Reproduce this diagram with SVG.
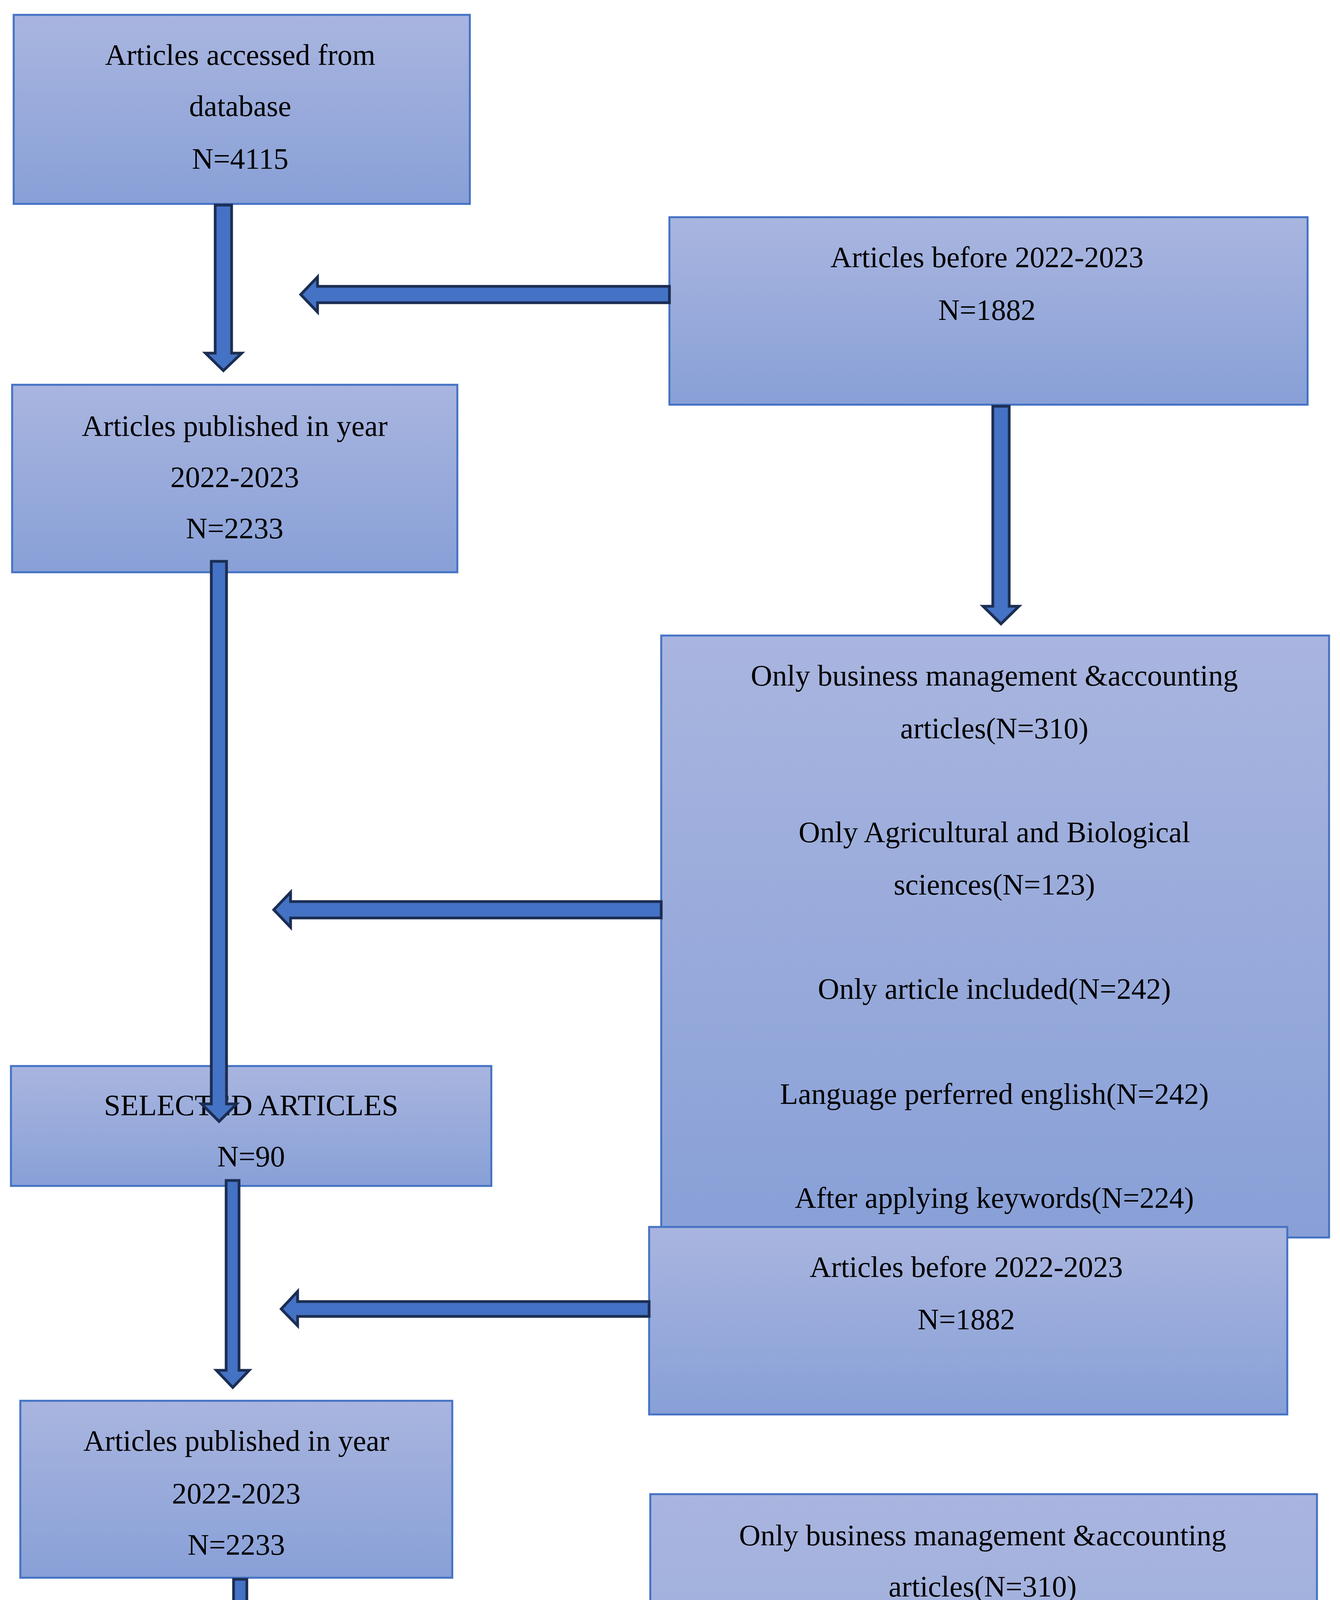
<svg xmlns="http://www.w3.org/2000/svg" width="3431" height="5401" viewBox="0 0 3431 5401">
<defs>
<linearGradient id="g" x1="0" y1="0" x2="0" y2="1"><stop offset="0" stop-color="#a9b5df"/><stop offset="1" stop-color="#88a0d7"/></linearGradient>
<style>
.b{fill:url(#g);stroke:#4472c4;stroke-width:5}
.t{font-family:"Liberation Serif","Times New Roman",serif;font-size:76px;fill:#000;text-anchor:middle}
.a{fill:#4472c4;stroke:#1b2d52;stroke-width:7}
</style>
</defs>
<rect width="3431" height="5401" fill="#fff"/>
<g id="n1"><rect class="b" x="35" y="38" width="1168" height="484"/><text class="t" x="615" y="166">Articles accessed from</text><text class="t" x="615" y="297">database</text><text class="t" x="615" y="432">N=4115</text></g>
<g id="n2"><rect class="b" x="1714" y="556" width="1634" height="480"/><text class="t" x="2527" y="684">Articles before 2022-2023</text><text class="t" x="2527" y="819">N=1882</text></g>
<g id="n3"><rect class="b" x="31" y="985" width="1140" height="480"/><text class="t" x="601" y="1116">Articles published in year</text><text class="t" x="601" y="1247">2022-2023</text><text class="t" x="601" y="1378">N=2233</text></g>
<g id="n4"><rect class="b" x="1693" y="1627" width="1710" height="1541"/><text class="t" x="2546" y="1755">Only business management &amp;accounting</text><text class="t" x="2546" y="1890">articles(N=310)</text><text class="t" x="2546" y="2156">Only Agricultural and Biological</text><text class="t" x="2546" y="2290">sciences(N=123)</text><text class="t" x="2546" y="2557">Only article included(N=242)</text><text class="t" x="2546" y="2826">Language perferred english(N=242)</text><text class="t" x="2546" y="3092">After applying keywords(N=224)</text></g>
<g id="n5"><rect class="b" x="28" y="2729" width="1230" height="307"/><text class="t" x="643" y="2855">SELECTED ARTICLES</text><text class="t" x="643" y="2986">N=90</text></g>
<g id="n6"><rect class="b" x="1662" y="3141" width="1634" height="480"/><text class="t" x="2474" y="3269">Articles before 2022-2023</text><text class="t" x="2474" y="3403">N=1882</text></g>
<g id="n7"><rect class="b" x="52" y="3586" width="1106" height="453"/><text class="t" x="605" y="3714">Articles published in year</text><text class="t" x="605" y="3849">2022-2023</text><text class="t" x="605" y="3980">N=2233</text></g>
<g id="n8"><rect class="b" x="1665" y="3825" width="1707" height="1541"/><text class="t" x="2516" y="3956">Only business management &amp;accounting</text><text class="t" x="2516" y="4087">articles(N=310)</text><text class="t" x="2516" y="4356">Only Agricultural and Biological</text><text class="t" x="2516" y="4488">sciences(N=123)</text><text class="t" x="2516" y="4754">Only article included(N=242)</text><text class="t" x="2516" y="5024">Language perferred english(N=242)</text><text class="t" x="2516" y="5290">After applying keywords(N=224)</text></g>
<g id="n9"><rect class="b" x="69" y="4516" width="1202" height="484"/><text class="t" x="670" y="4647">SELECTED ARTICLES</text><text class="t" x="670" y="4779">N=90</text></g>
<g id="connectors">
<path class="a" d="M551 525H593V904H619L572 949L526 904H551Z"/>
<path class="a" d="M1714 733V775H813V799L770 754L813 709V733Z"/>
<path class="a" d="M2542 1040H2584V1552H2609L2563 1597L2517 1552H2542Z"/>
<path class="a" d="M541 1437H580V2826H606L561 2871L516 2826H541Z"/>
<path class="a" d="M1693 2308V2350H744V2374L701 2329L744 2284V2308Z"/>
<path class="a" d="M579 3022H612V3508H638L596 3552L554 3508H579Z"/>
<path class="a" d="M1662 3332V3370H762V3394L720 3351L762 3306V3332Z"/>
<path class="a" d="M598 4043H632V4517H658L615 4561L572 4517H598Z"/>
<path class="a" d="M1665 4244V4284H779V4308L736 4264L779 4220V4244Z"/>
</g>
</svg>
